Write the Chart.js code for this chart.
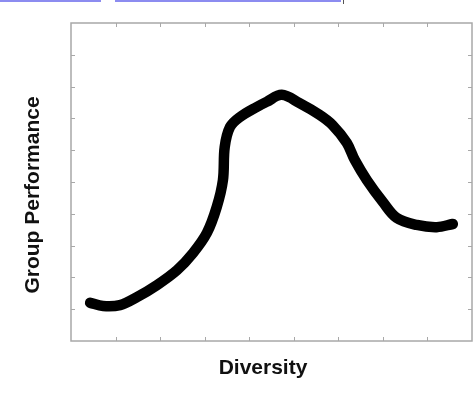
<!DOCTYPE html>
<html>
<head>
<meta charset="utf-8">
<script src="https://cdn.jsdelivr.net/npm/chart.js@4/dist/chart.umd.min.js"></script>
<style>
  html, body { margin: 0; padding: 0; background: #fff; }
  #wrap { position: relative; width: 474px; height: 400px; }
  .bar { position: absolute; top: 0; height: 2px; background: #8c8cf0; }
</style>
</head>
<body>
<div id="wrap">
  <canvas id="chart" width="474" height="400"></canvas>
  <div class="bar" style="left:0;width:101px"></div>
  <div class="bar" style="left:115px;width:226px"></div>
  <div class="bar" style="left:343px;width:1px;height:4px;background:#555"></div>
</div>
<script>
// Courbe (unités arbitraires, axes 0–9 et 0–10)
const diversity = [0.43, 0.72, 1.10, 1.48, 1.93, 2.38, 2.74, 3.05, 3.27, 3.41, 3.45, 3.57, 3.79, 4.17, 4.39, 4.73, 5.13, 5.58, 5.87, 6.19, 6.37, 6.64, 7.00, 7.31, 7.76, 8.21, 8.57];
const performance = [1.20, 1.10, 1.13, 1.38, 1.76, 2.23, 2.77, 3.40, 4.21, 5.06, 6.10, 6.73, 7.04, 7.36, 7.52, 7.74, 7.48, 7.11, 6.79, 6.23, 5.69, 5.06, 4.37, 3.87, 3.65, 3.58, 3.68];
const xTicks = [1, 2, 3, 4, 5, 6, 7, 8];
const yTicks = [1, 2, 3, 4, 5, 6, 7, 8, 9];
const xTitle = "Diversity";
const yTitle = "Group Performance";

// Cadre gris, graduations vers l'intérieur et titres des axes
const frame = {
  id: "frame",
  afterDatasetsDraw(chart) {
    const { ctx, chartArea: a, scales: { x, y } } = chart;
    ctx.save();
    ctx.strokeStyle = "#a8a8a8";
    ctx.lineWidth = 1.5;
    ctx.strokeRect(a.left, a.top, a.right - a.left, a.bottom - a.top);
    ctx.lineWidth = 1;
    ctx.beginPath();
    xTicks.forEach(v => {
      const px = Math.round(x.getPixelForValue(v)) + 0.5;
      ctx.moveTo(px, a.bottom); ctx.lineTo(px, a.bottom - 4);
      ctx.moveTo(px, a.top); ctx.lineTo(px, a.top + 4);
    });
    yTicks.forEach(v => {
      const py = Math.round(y.getPixelForValue(v)) + 0.5;
      ctx.moveTo(a.left, py); ctx.lineTo(a.left + 4, py);
      ctx.moveTo(a.right, py); ctx.lineTo(a.right - 4, py);
    });
    ctx.stroke();

    // titres (légèrement décalés du centre, comme sur l'original)
    ctx.fillStyle = "#111";
    ctx.font = "bold 21px 'Liberation Sans', Arial, sans-serif";
    ctx.textAlign = "center";
    ctx.textBaseline = "middle";
    ctx.fillText(xTitle, a.left + 192, a.bottom + 27);
    ctx.translate(a.left - 38, a.top + 172);
    ctx.rotate(-Math.PI / 2);
    ctx.fillText(yTitle, 0, 0);
    ctx.restore();
  }
};

new Chart(document.getElementById("chart"), {
  type: "scatter",
  data: {
    datasets: [{
      data: diversity.map((v, i) => ({ x: v, y: performance[i] })),
      showLine: true,
      borderColor: "#000",
      borderWidth: 10.5,
      borderCapStyle: "round",
      borderJoinStyle: "round",
      tension: 0.35,
      pointRadius: 0
    }]
  },
  options: {
    responsive: false,
    animation: false,
    layout: { padding: { left: 71, top: 23, right: 2, bottom: 59 } },
    plugins: { legend: { display: false }, tooltip: { enabled: false } },
    scales: {
      x: { type: "linear", min: 0, max: 9, display: false },
      y: { min: 0, max: 10, display: false }
    }
  },
  plugins: [frame]
});
</script>
</body>
</html>
